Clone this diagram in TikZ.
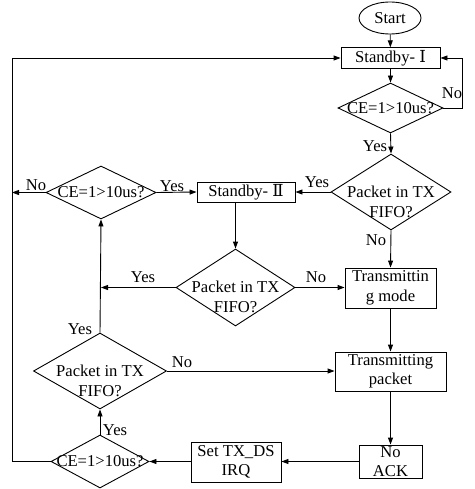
\documentclass[tikz,border=0pt]{standalone}
\usepackage{fontspec}
\setmainfont{Liberation Serif}
\newfontfamily\romfont{DejaVu Serif}
\usetikzlibrary{shapes.geometric,arrows.meta}
\begin{document}
\begin{tikzpicture}[x=1pt,y=-1pt,
  font=\fontsize{16.6}{19.5}\selectfont,
  line width=0.9pt,
  box/.style={draw,rectangle,inner sep=0pt,align=center},
  dia/.style={draw,diamond,inner sep=0pt},
  txt/.style={inner sep=0pt,align=center},
  lbl/.style={inner sep=0pt},
  arr/.style={-{Triangle[length=7pt,width=5pt]}}]
\useasboundingbox (0,0) rectangle (474,489);
% nodes
\node[draw,ellipse,minimum width=62pt,minimum height=32pt,inner sep=0pt] (start) at (390,18) {Start};
\node[box,minimum width=99pt,minimum height=20.5pt] (sb1) at (390.5,58) {Standby- {\romfont Ⅰ}};
\node[dia,minimum width=105pt,minimum height=50pt] (d1) at (390.5,108) {};
\node[txt] (d1t) at (d1) {CE=1>10us?};
\node[dia,minimum width=120pt,minimum height=76pt] (d2) at (391,192) {};
\node[txt] (d2t) at (391,202) {Packet in TX\\FIFO?};
\node[box,minimum width=98pt,minimum height=20pt] (sb2) at (246,192) {Standby- {\romfont Ⅱ}};
\node[dia,minimum width=110pt,minimum height=53pt] (d3) at (101,192.5) {};
\node[txt] (d3t) at (d3) {CE=1>10us?};
\node[box,minimum width=91pt,minimum height=40pt] (tm) at (390.5,288) {Transmittin\\g mode};
\node[dia,minimum width=119pt,minimum height=77pt] (d4) at (235.5,287.5) {};
\node[txt] (d4t) at (235.5,297) {Packet in TX\\FIFO?};
\node[dia,minimum width=133pt,minimum height=76pt] (d5) at (100,371) {};
\node[txt] (d5t) at (100,381) {Packet in TX\\FIFO?};
\node[box,minimum width=111pt,minimum height=39pt] (tp) at (390.5,371.5) {Transmitting\\packet};
\node[box,minimum width=63pt,minimum height=33pt] (na) at (390.5,461.5) {No\\ACK};
\node[box,minimum width=90pt,minimum height=40pt] (st) at (236,462) {Set TX\_DS\\IRQ};
\node[dia,minimum width=98pt,minimum height=53pt] (d6) at (100,461.5) {};
\node[txt] (d6t) at (d6) {CE=1>10us?};
% helper coordinates
\coordinate (c1) at (462.7,58);
\coordinate (c2) at (12,192.5);
\coordinate (c4) at (12,58);
% labels
\node[lbl] (l1) at (452,93) {No};
\node[lbl] (l2) at (375,146) {Yes};
\node[lbl] (l3) at (317,182) {Yes};
\node[lbl] (l4) at (36,185) {No};
\node[lbl] (l5) at (172,186) {Yes};
\node[lbl] (l6) at (376,240) {No};
\node[lbl] (l7) at (143,277) {Yes};
\node[lbl] (l8) at (316,277) {No};
\node[lbl] (l9) at (80,329) {Yes};
\node[lbl] (l10) at (182,362) {No};
\node[lbl] (l11) at (115,430) {Yes};
% connectors
\draw[arr] (start) -- (sb1);
\draw[arr] (sb1) -- (d1);
\draw[arr] (d1.east) -| (c1) -- (sb1.east);
\draw[arr] (d1.south) -- (d2.north);
\draw[arr] (d2.west) -- (sb2.east);
\draw[arr] (d3.east) -- (sb2.west);
\draw[arr] (d3.west) -- (c2);
\draw[arr] (d4.north |- sb2.south) -- (d4.north);
\draw[arr] (d4.east) -- (tm.west |- d4.east);
\draw[arr] (d4.west) -- (d3.south |- d4.west);
\draw[arr] (d5.north) -- (d3.south);
\draw[arr] (d2.south) -- (tm.north);
\draw[arr] (d5.east) -- (tp.west |- d5.east);
\draw[arr] (tm.south) -- (tp.north);
\draw[arr] (tp.south) -- (na.north);
\draw[arr] (na.west) -- (st.east |- na.west);
\draw[arr] (st.west |- d6.east) -- (d6.east);
\draw[arr] (d6.north) -- (d5.south);
\draw[arr] (d6.west) -| (c4) -- (sb1.west);
\end{tikzpicture}
\end{document}
